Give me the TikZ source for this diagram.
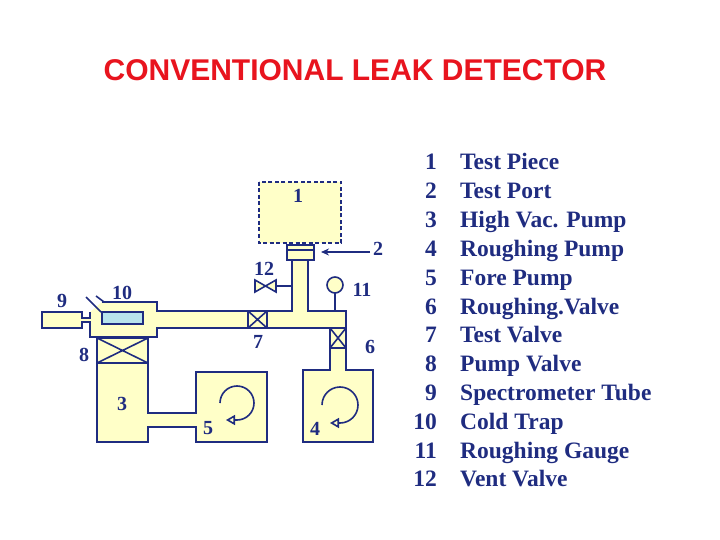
\documentclass[tikz,border=0pt]{standalone}
\usepackage{fontspec}
\setmainfont{Liberation Serif}
\newfontfamily\arialf{Liberation Sans}
\usetikzlibrary{arrows.meta}
\definecolor{ink}{HTML}{1F2C80}
\definecolor{pale}{HTML}{FFFFC8}
\definecolor{trap}{HTML}{B8E4EC}
\definecolor{titlered}{HTML}{E8141E}
\tikzset{
  px/.style={x=1pt,y=-1pt},
  ln/.style={draw=ink,line width=1.6pt,line join=miter},
  fl/.style={fill=pale},
  lab/.style={text=ink,font=\bfseries\fontsize{20}{20}\selectfont,inner sep=0pt},
  leg/.style={text=ink,font=\bfseries\fontsize{23.5}{23.5}\selectfont,inner sep=0pt},
  rot/.style={draw=ink,line width=1.6pt,-{Triangle[open,length=9pt,width=10pt]}}
}
\begin{document}
\begin{tikzpicture}[px]
\useasboundingbox (0,0) rectangle (720,540);
\node[text=titlered,font=\arialf\bfseries\fontsize{30}{30}\selectfont] (title) at (355,70) {CONVENTIONAL LEAK DETECTOR};
% test piece
\draw[ln,fl,dashed,dash pattern=on 4pt off 2.5pt] (259,182) rectangle (341,243);
\node[lab] (n1) at (298,196) {1};
% main network fill
\fill[pale] (102,302)--(157,302)--(157,311)--(292,311)--(292,260)--(308,260)--(308,311)--(346,311)--(346,370)--(373,370)--(373,442)--(303,442)--(303,370)--(330,370)--(330,328)--(157,328)--(157,337)--(90,337)--(90,322)--(82,322)--(82,328)--(42,328)--(42,312)--(82,312)--(82,318)--(90,318)--(90,312)--cycle;
\draw[ln] (102,302)--(157,302)--(157,311)--(292,311)--(292,260) (308,260)--(308,311)--(346,311)--(346,370)--(373,370)--(373,442)--(303,442)--(303,370)--(330,370)--(330,328)--(157,328)--(157,337)--(90,337)--(90,322)--(82,322)--(82,328)--(42,328)--(42,312)--(82,312)--(82,318)--(90,318)--(90,312);
% flap
\draw[ln] (86,297)--(101,312) (96,296)--(104,302);
% cold trap
\draw[ln,fill=trap] (102,312) rectangle (143,324);
% test port
\draw[ln,fl] (287,245) rectangle (314,260);
\draw[ln] (287,250)--(314,250);
% valve 7
\draw[ln,fl] (248,311) rectangle (267,328);
\draw[ln] (248,311)--(267,328) (248,328)--(267,311);
% valve 6
\draw[ln,fl] (330,328) rectangle (346,348);
\draw[ln] (330,328)--(346,348) (330,348)--(346,328);
% valve 8
\draw[ln,fl] (97,338) rectangle (148,363);
\draw[ln] (97,338)--(148,363) (97,363)--(148,338);
% pump 3 and 5
\draw[ln,fl] (97,363)--(148,363)--(148,413)--(196,413)--(196,372)--(267,372)--(267,442)--(196,442)--(196,427)--(148,427)--(148,442)--(97,442)--cycle;
% vent valve 12
\draw[ln] (276,286)--(292,286);
\draw[ln,fl] (255,280)--(276,292)--(276,280)--(255,292)--cycle;
% gauge 11
\draw[ln] (335,293)--(335,311);
\draw[ln,fl] (335,285) circle (8);
% arrow for 2
\coordinate (a2) at (370,252);
\draw[ink,line width=1.6pt,-{Stealth[length=8pt,width=7pt]}] (a2)--(321,252);
% rotation arrows
\draw[rot] (220,403) arc[start angle=180,end angle=450,radius=17] -- (226,420);
\draw[rot] (322,405) arc[start angle=180,end angle=450,radius=18] -- (330,423);
% labels
\node[lab] (n2) at (378,249) {2};
\node[lab] (n3) at (122,404) {3};
\node[lab] (n4) at (315,429) {4};
\node[lab] (n5) at (208,428) {5};
\node[lab] (n6) at (370,347) {6};
\node[lab] (n7) at (258,342) {7};
\node[lab] (n8) at (84,355) {8};
\node[lab] (n9) at (62,301) {9};
\node[lab] (n10) at (122,293) {10};
\node[lab] (n11) at (362,290) {11};
\node[lab] (n12) at (264,269) {12};
% legend
\foreach \i/\t [count=\k from 0] in {1/Test Piece,2/Test Port,3/High Vac. Pump,4/Roughing Pump,5/Fore Pump,6/Roughing.Valve,7/Test Valve,8/Pump Valve,9/Spectrometer Tube,10/Cold Trap,11/Roughing Gauge,12/Vent Valve}{
  \node[leg,anchor=base east] (l\i) at (437,{170+28.8*\k}) {\i};
  \node[leg,anchor=base west] (t\i) at (460,{170+28.8*\k}) {\t};
}
\end{tikzpicture}
\end{document}
